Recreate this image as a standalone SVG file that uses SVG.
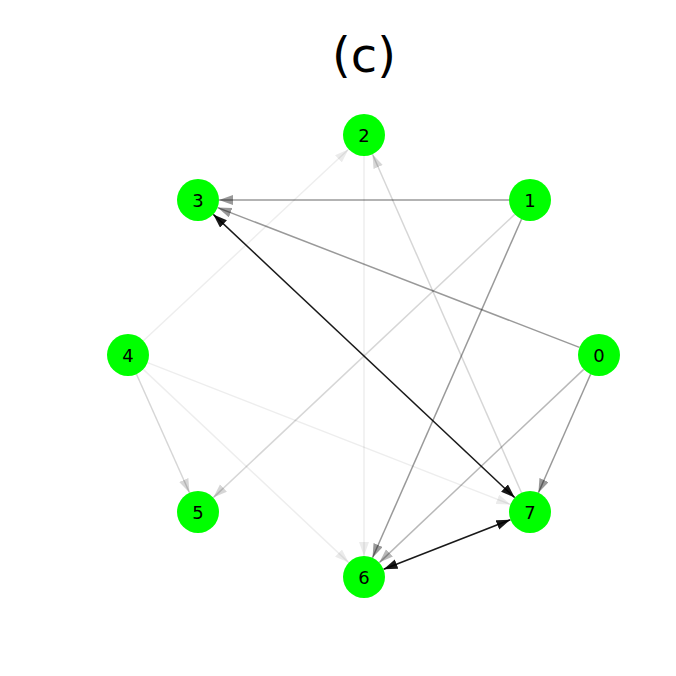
<svg xmlns="http://www.w3.org/2000/svg" width="676" height="676" viewBox="0 0 676 676">
<style>
.n{fill:#00ff00}
.t{font-family:"DejaVu Sans",sans-serif;font-size:18px;text-anchor:middle;dominant-baseline:central;fill:#000}
line{stroke:#000;stroke-width:1.5}
.a{stroke-opacity:0.9}.b{stroke-opacity:0.4}.c{stroke-opacity:0.28}.d{stroke-opacity:0.16}.e{stroke-opacity:0.07}
</style>
<defs>
<marker id="ma" markerUnits="userSpaceOnUse" markerWidth="16" markerHeight="12" refX="14" refY="5" orient="auto-start-reverse"><path d="M0,0L14,5L0,10Z" fill="#000" fill-opacity="0.9"/></marker>
<marker id="mb" markerUnits="userSpaceOnUse" markerWidth="16" markerHeight="12" refX="14" refY="5" orient="auto"><path d="M0,0L14,5L0,10Z" fill="#000" fill-opacity="0.4"/></marker>
<marker id="mc" markerUnits="userSpaceOnUse" markerWidth="16" markerHeight="12" refX="14" refY="5" orient="auto"><path d="M0,0L14,5L0,10Z" fill="#000" fill-opacity="0.28"/></marker>
<marker id="md" markerUnits="userSpaceOnUse" markerWidth="16" markerHeight="12" refX="14" refY="5" orient="auto"><path d="M0,0L14,5L0,10Z" fill="#000" fill-opacity="0.16"/></marker>
<marker id="me" markerUnits="userSpaceOnUse" markerWidth="16" markerHeight="12" refX="14" refY="5" orient="auto"><path d="M0,0L14,5L0,10Z" fill="#000" fill-opacity="0.08"/></marker>
</defs>
<rect width="676" height="676" fill="#fff"/>
<text x="364" y="55" font-family="DejaVu Sans,sans-serif" font-size="48" text-anchor="middle" dominant-baseline="central">(c)</text>
<g id="edges">
<line class="b" x1="509" y1="200" x2="219" y2="200" marker-end="url(#mb)"/>
<line class="b" x1="579.4" y1="347.4" x2="217.6" y2="207.6" marker-end="url(#mb)"/>
<line class="a" x1="213.3" y1="214.4" x2="514.7" y2="497.6" marker-start="url(#ma)" marker-end="url(#ma)"/>
<line class="a" x1="383.6" y1="569.3" x2="510.4" y2="519.7" marker-start="url(#ma)" marker-end="url(#ma)"/>
<line class="b" x1="521.5" y1="219.2" x2="372.5" y2="557.8" marker-end="url(#mb)"/>
<line class="d" x1="514.7" y1="214.4" x2="213.3" y2="497.6" marker-end="url(#md)"/>
<line class="b" x1="590.6" y1="374.2" x2="538.4" y2="492.8" marker-end="url(#mb)"/>
<line class="c" x1="583.7" y1="369.4" x2="379.3" y2="562.6" marker-end="url(#mc)"/>
<line class="d" x1="521.5" y1="492.8" x2="372.5" y2="154.2" marker-end="url(#md)"/>
<line class="e" x1="364" y1="156" x2="364" y2="556" marker-end="url(#me)"/>
<line class="e" x1="143.4" y1="340.7" x2="348.6" y2="149.3" marker-end="url(#me)"/>
<line class="d" x1="136.5" y1="374.2" x2="189.5" y2="492.8" marker-end="url(#md)"/>
<line class="e" x1="147.6" y1="362.6" x2="510.4" y2="504.4" marker-end="url(#me)"/>
<line class="e" x1="143.3" y1="369.4" x2="348.7" y2="562.6" marker-end="url(#me)"/>
</g>
<g id="n0"><circle class="n" cx="599" cy="355" r="21"/><text class="t" x="599" y="355">0</text></g>
<g id="n1"><circle class="n" cx="530" cy="200" r="21"/><text class="t" x="530" y="200">1</text></g>
<g id="n2"><circle class="n" cx="364" cy="135" r="21"/><text class="t" x="364" y="135">2</text></g>
<g id="n3"><circle class="n" cx="198" cy="200" r="21"/><text class="t" x="198" y="200">3</text></g>
<g id="n4"><circle class="n" cx="128" cy="355" r="21"/><text class="t" x="128" y="355">4</text></g>
<g id="n5"><circle class="n" cx="198" cy="512" r="21"/><text class="t" x="198" y="512">5</text></g>
<g id="n6"><circle class="n" cx="364" cy="577" r="21"/><text class="t" x="364" y="577">6</text></g>
<g id="n7"><circle class="n" cx="530" cy="512" r="21"/><text class="t" x="530" y="512">7</text></g>
</svg>
